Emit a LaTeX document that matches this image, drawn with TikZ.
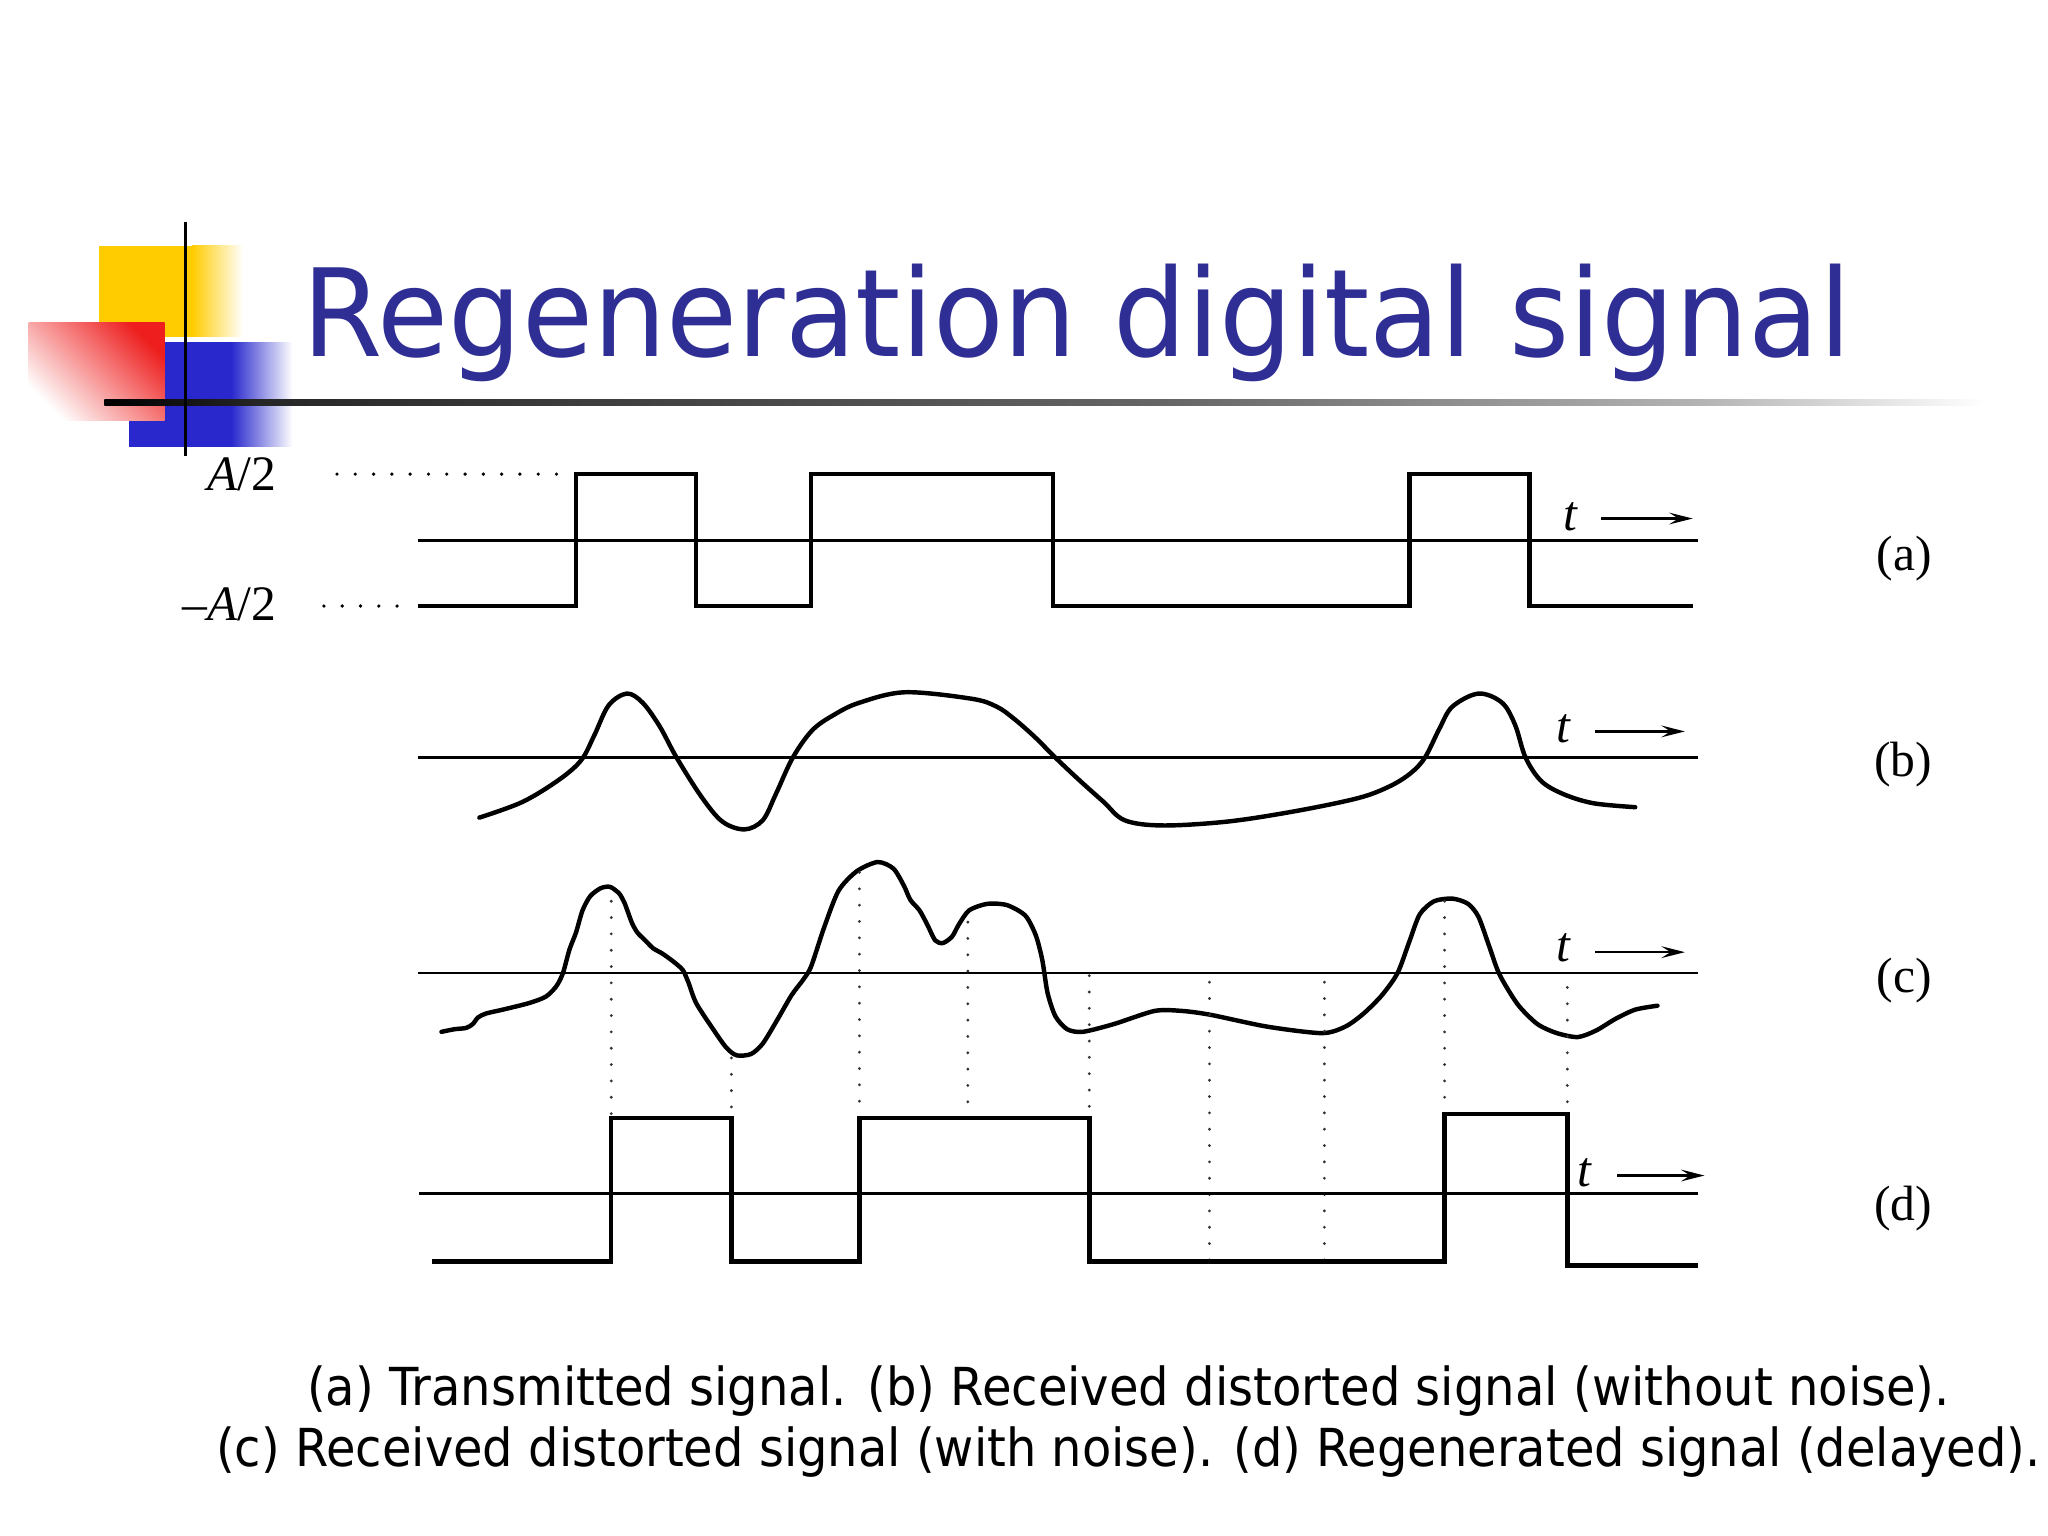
\documentclass[tikz,border=0pt]{standalone}
\usepackage{fontspec}
\setmainfont{Liberation Serif}
\newfontfamily\sansf{DejaVu Sans}
\usetikzlibrary{arrows.meta}
\definecolor{titleblue}{RGB}{46,46,148}
\definecolor{logoyellow}{RGB}{255,204,0}
\definecolor{logored}{RGB}{238,30,30}
\definecolor{logoblue}{RGB}{40,40,205}
\newsavebox\fitbox
\newcommand\fitto[2]{\sbox\fitbox{#2}\pgfmathsetmacro\fitscale{(#1)/(\the\wd\fitbox)}\scalebox{\fitscale}[1]{\usebox\fitbox}}
\tikzset{
  axisline/.style={line width=0.02cm},
  sqwave/.style={line width=0.034cm, line join=miter},
  sigcurve/.style={line width=0.034cm, line join=round, line cap=round},
  samp/.style={line width=0.024cm, dash pattern=on 0pt off 0.125cm, line cap=round, black!80},
  lvl/.style={line width=0.028cm, dash pattern=on 0pt off 0.14cm, line cap=round},
  tarrow/.style={line width=0.018cm, -{Stealth[length=0.18cm,width=0.09cm,inset=0.07cm]}},
  lbl/.style={font=\fontsize{10.8pt}{12pt}\selectfont, inner sep=0pt},
  tlbl/.style={font=\fontsize{10.8pt}{12pt}\selectfont\itshape, inner sep=0pt},
  caption/.style={inner sep=0pt, anchor=base},
}
\begin{document}
\begin{tikzpicture}[x=0.01cm, y=-0.01cm]
\useasboundingbox[fill=white] (0,0) rectangle (1568,1176);

% ---- logo ----
\fill[logoyellow] (76,188) rectangle (148,258);
\shade[left color=logoyellow, right color=white] (147,188) rectangle (186,258);
\fill[logoblue] (99,262) rectangle (178,342);
\shade[left color=logoblue, right color=white] (177,262) rectangle (224,342);
\shade[top color=logored, bottom color=white, shading angle=-45] (22,247) rectangle (126,322);
\shade[left color=black, right color=black!85] (80,305.5) rectangle (200,310.5);
\shade[left color=black!85, right color=black!60] (199.5,305.5) rectangle (900,310.5);
\shade[left color=black!60, right color=black!30] (899.5,305.5) rectangle (1300,310.5);
\shade[left color=black!30, right color=white] (1299.5,305.5) rectangle (1520,310.5);
\fill[black] (140.5,170) rectangle (143.5,349);

% ---- title ----
\node[anchor=base west, inner sep=0pt, text=titleblue] (title) at (231,273)
  {\fitto{11.85cm}{\fontsize{26.5pt}{30pt}\sansf\selectfont Regeneration digital signal}};

% ---- (a) ----
\node[tlbl, anchor=east] (ahi) at (212,363) {A\upshape/2};
\node[tlbl, anchor=east] (alo) at (212,463) {\upshape–\itshape A\upshape/2};
\coordinate (ahiA) at (258,363); \coordinate (ahiB) at (436,363);
\coordinate (aloA) at (248,464); \coordinate (aloB) at (316,464);
\draw[lvl] (ahiA) -- (ahiB);
\draw[lvl] (aloA) -- (aloB);
\draw[axisline] (320,414) -- (1300,414);
\draw[sqwave] (320,464) -- (441,464) -- (441,363) -- (533,363) -- (533,464) -- (621,464)
  -- (621,363) -- (806,363) -- (806,464) -- (1079,464) -- (1079,363) -- (1171,363)
  -- (1171,464) -- (1296,464);
\node[tlbl] (ta) at (1202,396) {t};
\coordinate (ta1) at (1226,397); \coordinate (ta2) at (1296,397);
\draw[tarrow] (ta1) -- (ta2);
\node[lbl] (la) at (1458,428) {(a)};

% ---- (b) ----
\draw[axisline] (320,580) -- (1300,580);
\draw[sigcurve] plot[smooth, tension=0.55] coordinates {
  (367,626) (400,614) (428,597) (445,582) (455,563) (466,540) (480,531)
  (492,538) (505,556) (518,580) (537,610) (553,629) (570,635) (584,628)
  (594,608) (607,580) (622,559) (639,547) (658,538) (693,530) (744,535) (763,541)
  (776,550) (792,564) (808,580) (826,597) (845,614) (861,628) (890,632) (940,629)
  (992,621) (1040,611) (1064,602) (1080,592) (1091,580) (1102,558) (1112,541)
  (1132,531) (1150,538) (1160,555) (1168,580) (1180,598) (1197,608) (1220,615) (1252,618)};
\node[tlbl] (tb) at (1197,558) {t};
\coordinate (tb1) at (1221,560); \coordinate (tb2) at (1290,560);
\draw[tarrow] (tb1) -- (tb2);
\node[lbl] (lb) at (1457,585) {(b)};

% ---- (c) ----
\draw[axisline] (320,745) -- (1300,745);
\draw[sigcurve] plot[smooth, tension=0.45] coordinates {
  (338,790) (348,788) (357,787) (362,784) (366,779) (372,776) (385,773) (405,768)
  (418,763) (426,755) (431,745) (436,727) (441,714) (446,697) (452,686) (460,680)
  (467,679) (474,684) (478,691) (481,699) (484,707) (488,714) (494,720) (500,726)
  (507,730) (514,735) (519,739) (523,743) (527,752) (533,768) (546,788) (556,802)
  (564,808) (575,807) (584,799) (595,781) (606,762) (615,750) (621,740) (631,710)
  (642,682) (656,667) (672,660) (684,665) (692,678) (697,689) (704,697) (710,708)
  (716,720) (722,722) (729,717) (734,708) (742,697) (756,692) (771,693) (785,701)
  (793,716) (798,735) (802,760) (808,778) (817,788) (829,790) (853,784) (884,774)
  (905,774) (927,777) (970,786) (1012,791) (1030,786) (1044,776) (1058,762) (1070,745)
  (1079,721) (1087,700) (1098,690) (1112,688) (1124,692) (1132,702) (1140,724)
  (1148,746) (1162,769) (1177,784) (1192,791) (1208,794) (1222,789) (1237,780)
  (1252,773) (1269,770)};
\draw[samp] (468,690) -- (468,856);
\draw[samp] (560,810) -- (560,856);
\draw[samp] (658,668) -- (658,856);
\draw[samp] (741,706) -- (741,845);
\draw[samp] (834,747) -- (834,856);
\draw[samp] (926,752) -- (926,966);
\draw[samp] (1014,752) -- (1014,966);
\draw[samp] (1106,690) -- (1106,853);
\draw[samp] (1200,756) -- (1200,853);
\node[tlbl] (tc) at (1197,726) {t};
\coordinate (tc1) at (1221,729); \coordinate (tc2) at (1290,729);
\draw[tarrow] (tc1) -- (tc2);
\node[lbl] (lc) at (1458,751) {(c)};

% ---- (d) ----
\draw[axisline] (321,914) -- (1300,914);
\draw[sqwave] (331,966) -- (468,966) -- (468,856) -- (560,856) -- (560,966) -- (658,966)
  -- (658,856) -- (834,856) -- (834,966) -- (1106,966) -- (1106,853) -- (1200,853)
  -- (1200,969) -- (1300,969);
\node[tlbl] (td) at (1213,898) {t};
\coordinate (td1) at (1238,900); \coordinate (td2) at (1305,900);
\draw[tarrow] (td1) -- (td2);
\node[lbl] (ld) at (1457,925) {(d)};

% ---- caption ----
\node[caption] (cap1) at (864,1076)
  {\fitto{12.57cm}{\fontsize{11.4pt}{13pt}\sansf\selectfont (a) Transmitted signal. (b) Received distorted signal (without noise).}};
\node[caption] (cap2) at (864,1123)
  {\fitto{13.96cm}{\fontsize{11.4pt}{13pt}\sansf\selectfont (c) Received distorted signal (with noise). (d) Regenerated signal (delayed).}};
\end{tikzpicture}
\end{document}
